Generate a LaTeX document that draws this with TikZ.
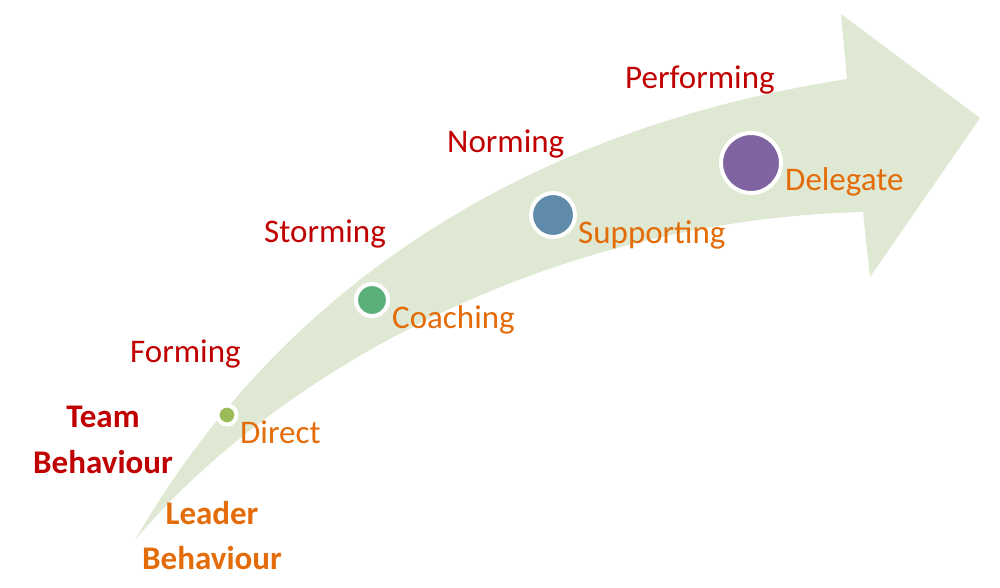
\documentclass[tikz,border=0pt]{standalone}
\usepackage{fontspec}
\setmainfont{Carlito}
\usetikzlibrary{positioning}
\definecolor{arrowgreen}{HTML}{DEE8D2}
\definecolor{teamred}{HTML}{C00000}
\definecolor{leadorange}{HTML}{E36C09}
\definecolor{dirgreen}{HTML}{9BBB59}
\definecolor{coachgreen}{HTML}{5AB07A}
\definecolor{suppblue}{HTML}{5F8AAA}
\definecolor{delpurple}{HTML}{8064A2}

\begin{document}
\begin{tikzpicture}[x=1pt,y=-1pt,
    stage/.style={inner sep=0pt, anchor=base west, text=teamred, font=\fontsize{33}{40}\selectfont},
    lead/.style={inner sep=0pt, anchor=base west, text=leadorange, font=\fontsize{33}{40}\selectfont},
    dot/.style={circle, draw=white, line width=4pt, inner sep=0pt}]
        \useasboundingbox (0,0) rectangle (1000,587);

        % big curved arrow
        \fill[arrowgreen] (135,540) .. controls (280,290) and (520,130) .. (847,79)
            -- (841,14) -- (980,118) -- (870,277) -- (863,212)
            .. controls (540,220) and (270,380) .. (135,540) -- cycle;

        % stages of the team
        \node[stage] (forming)    at (130,362) {Forming};
        \node[stage] (storming)   at (264,242) {Storming};
        \node[stage] (norming)    at (447,152) {Norming};
        \node[stage] (performing) at (625,88)  {Performing};

        % leader styles
        \node[dot, fill=dirgreen,   minimum size=19pt] (direct)     at (227,415) {};
        \node[dot, fill=coachgreen, minimum size=32pt] (coaching)   at (372,300) {};
        \node[dot, fill=suppblue,   minimum size=44pt] (supporting) at (553,215) {};
        \node[dot, fill=delpurple,  minimum size=60pt] (delegate)   at (751,163) {};

        \node[lead] (directtxt)     at (240,443) {Direct};
        \node[lead] (coachingtxt)   at (392,328) {Coaching};
        \node[lead] (supportingtxt) at (578,243) {Supporting};
        \node[lead] (delegatetxt)   at (785,190) {Delegate};

        % axis captions
        \node[inner sep=0pt, align=center, text=teamred, font=\fontsize{33}{46}\selectfont\bfseries] (team) at (103,440) {Team\\Behaviour};
        \node[inner sep=0pt, align=center, text=leadorange, font=\fontsize{33}{45}\selectfont\bfseries] (leader) at (212,536) {Leader\\Behaviour};
\end{tikzpicture}
\end{document}
